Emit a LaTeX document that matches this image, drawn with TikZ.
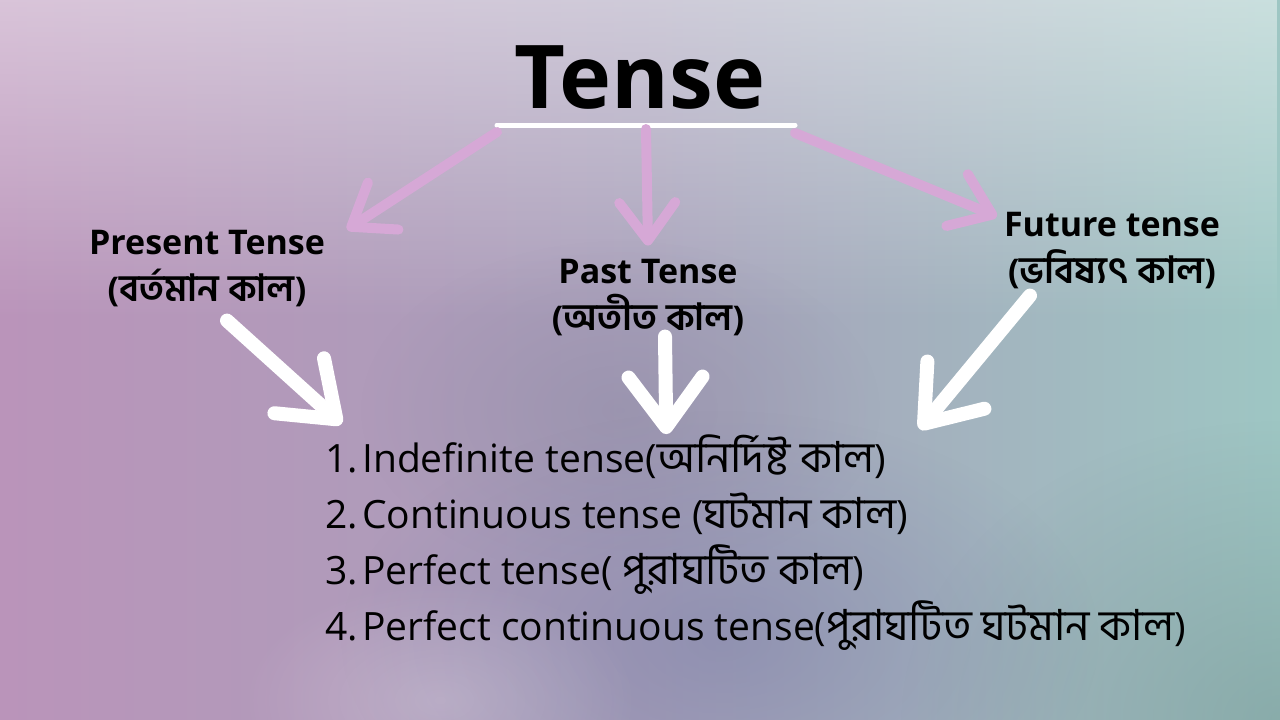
\documentclass[tikz,border=0pt]{standalone}
\usepackage{fontspec}
\setmainfont{Open Sans}
\newfontfamily\bnfont[Script=Bengali, Scale=1.1]{Hind Siliguri}
\usetikzlibrary{arrows.meta, positioning, fadings}

\definecolor{arrowpink}{RGB}{214,168,214}
\definecolor{bgmauve}{RGB}{186,148,186}
\definecolor{bgmid}{RGB}{168,160,186}
\definecolor{bgteal}{RGB}{158,198,195}
\definecolor{bgblue}{RGB}{118,122,165}
\definecolor{bggrey}{RGB}{130,128,155}
\definecolor{bgdeep}{RGB}{112,140,140}

\tikzfading[name=softspot, inner color=transparent!0, outer color=transparent!100]

\newcommand{\bn}[1]{{\bnfont #1}}

\begin{document}
\begin{tikzpicture}[x=1pt, y=-1pt, on grid, node distance=47pt,
  pinkarrow/.style={draw=arrowpink, line width=10pt, line cap=round,
    -{Straight Barb[length=38pt, width=56pt, round]}},
  whitearrow/.style={draw=white, line width=14pt, line cap=round,
    -{Straight Barb[length=50pt, width=74pt, round]}},
  title/.style={inner sep=0pt, anchor=base, font=\bfseries\fontsize{88}{100}\selectfont},
  heading/.style={inner sep=0pt, anchor=base, font=\bfseries\fontsize{34}{40}\selectfont},
  listitem/.style={inner sep=0pt, anchor=base west, font=\fontsize{39}{47}\selectfont}]

  \useasboundingbox (0,0) rectangle (1280,720);
  % background
  \begin{scope}
  \clip (0,0) rectangle (1280,720);
  \shade[left color=bgmauve, right color=bgteal, middle color=bgmid] (0,0) rectangle (1280,720);
  \fill[white, opacity=0.45, path fading=south] (0,0) rectangle (1280,320);
  \fill[bggrey, opacity=0.35, path fading=softspot] (620,410) ellipse (260 and 170);
  \fill[bgblue, opacity=0.45, path fading=softspot] (720,640) ellipse (380 and 230);
  \fill[white, opacity=0.2, path fading=softspot] (440,700) ellipse (200 and 120);
  \fill[bgdeep, opacity=0.45, path fading=softspot] (1280,720) ellipse (380 and 300);
  \end{scope}

  \node[title] (tense) at (640,108) {Tense};
  \coordinate (ulL) at (497,125);
  \coordinate (ulR) at (795,125);
  \draw[white, line width=5pt, line cap=round] (ulL) -- (ulR);

  \node[heading] (present) at (207,254) {Present Tense};
  \node[heading] (presentbn) [below=of present.base, anchor=base] {(\bn{বর্তমান কাল})};
  \node[heading] (past) at (648,283) {Past Tense};
  \node[heading] (pastbn) [below=of past.base, anchor=base] {(\bn{অতীত কাল})};
  \node[heading] (future) at (1112,236) {Future tense};
  \node[heading] (futurebn) [below=of future.base, anchor=base] {(\bn{ভবিষ্যৎ কাল})};

  \begin{scope}[node distance=56pt]
  \node[listitem] (num1) at (325,472) {1.};
  \node[listitem] (num2) [below=of num1.base west, anchor=base west] {2.};
  \node[listitem] (num3) [below=of num2.base west, anchor=base west] {3.};
  \node[listitem] (num4) [below=of num3.base west, anchor=base west] {4.};
  \end{scope}
  \begin{scope}[node distance=37pt]
  \node[listitem] (item1) [right=of num1.base west, anchor=base west] {Indefinite tense(\bn{অনির্দিষ্ট কাল})};
  \node[listitem] (item2) [right=of num2.base west, anchor=base west] {Continuous tense (\bn{ঘটমান কাল})};
  \node[listitem] (item3) [right=of num3.base west, anchor=base west] {Perfect tense( \bn{পুরাঘটিত কাল})};
  \node[listitem] (item4) [right=of num4.base west, anchor=base west] {Perfect continuous tense(\bn{পুরাঘটিত ঘটমান কাল})};
  \end{scope}

  \path
  ([yshift=-7pt]ulL) edge[pinkarrow] ([xshift=22pt]present.north east)
  ([shift={(6pt,-20pt)}]tense.south) edge[pinkarrow] ([yshift=13pt]past.north)
  ([yshift=-8pt]ulR) edge[pinkarrow] ([shift={(-7pt,-5pt)}]future.north west)
  ([shift={(20pt,-14pt)}]presentbn.south) edge[whitearrow] ([yshift=20pt]num1.north)
  ([shift={(17pt,-1pt)}]pastbn.south) edge[whitearrow] ([xshift=42pt]item1.north)
  ([shift={(-82pt,-7pt)}]futurebn.south) edge[whitearrow] ([shift={(33pt,5pt)}]item1.north east)
  ;
\end{tikzpicture}
\end{document}
